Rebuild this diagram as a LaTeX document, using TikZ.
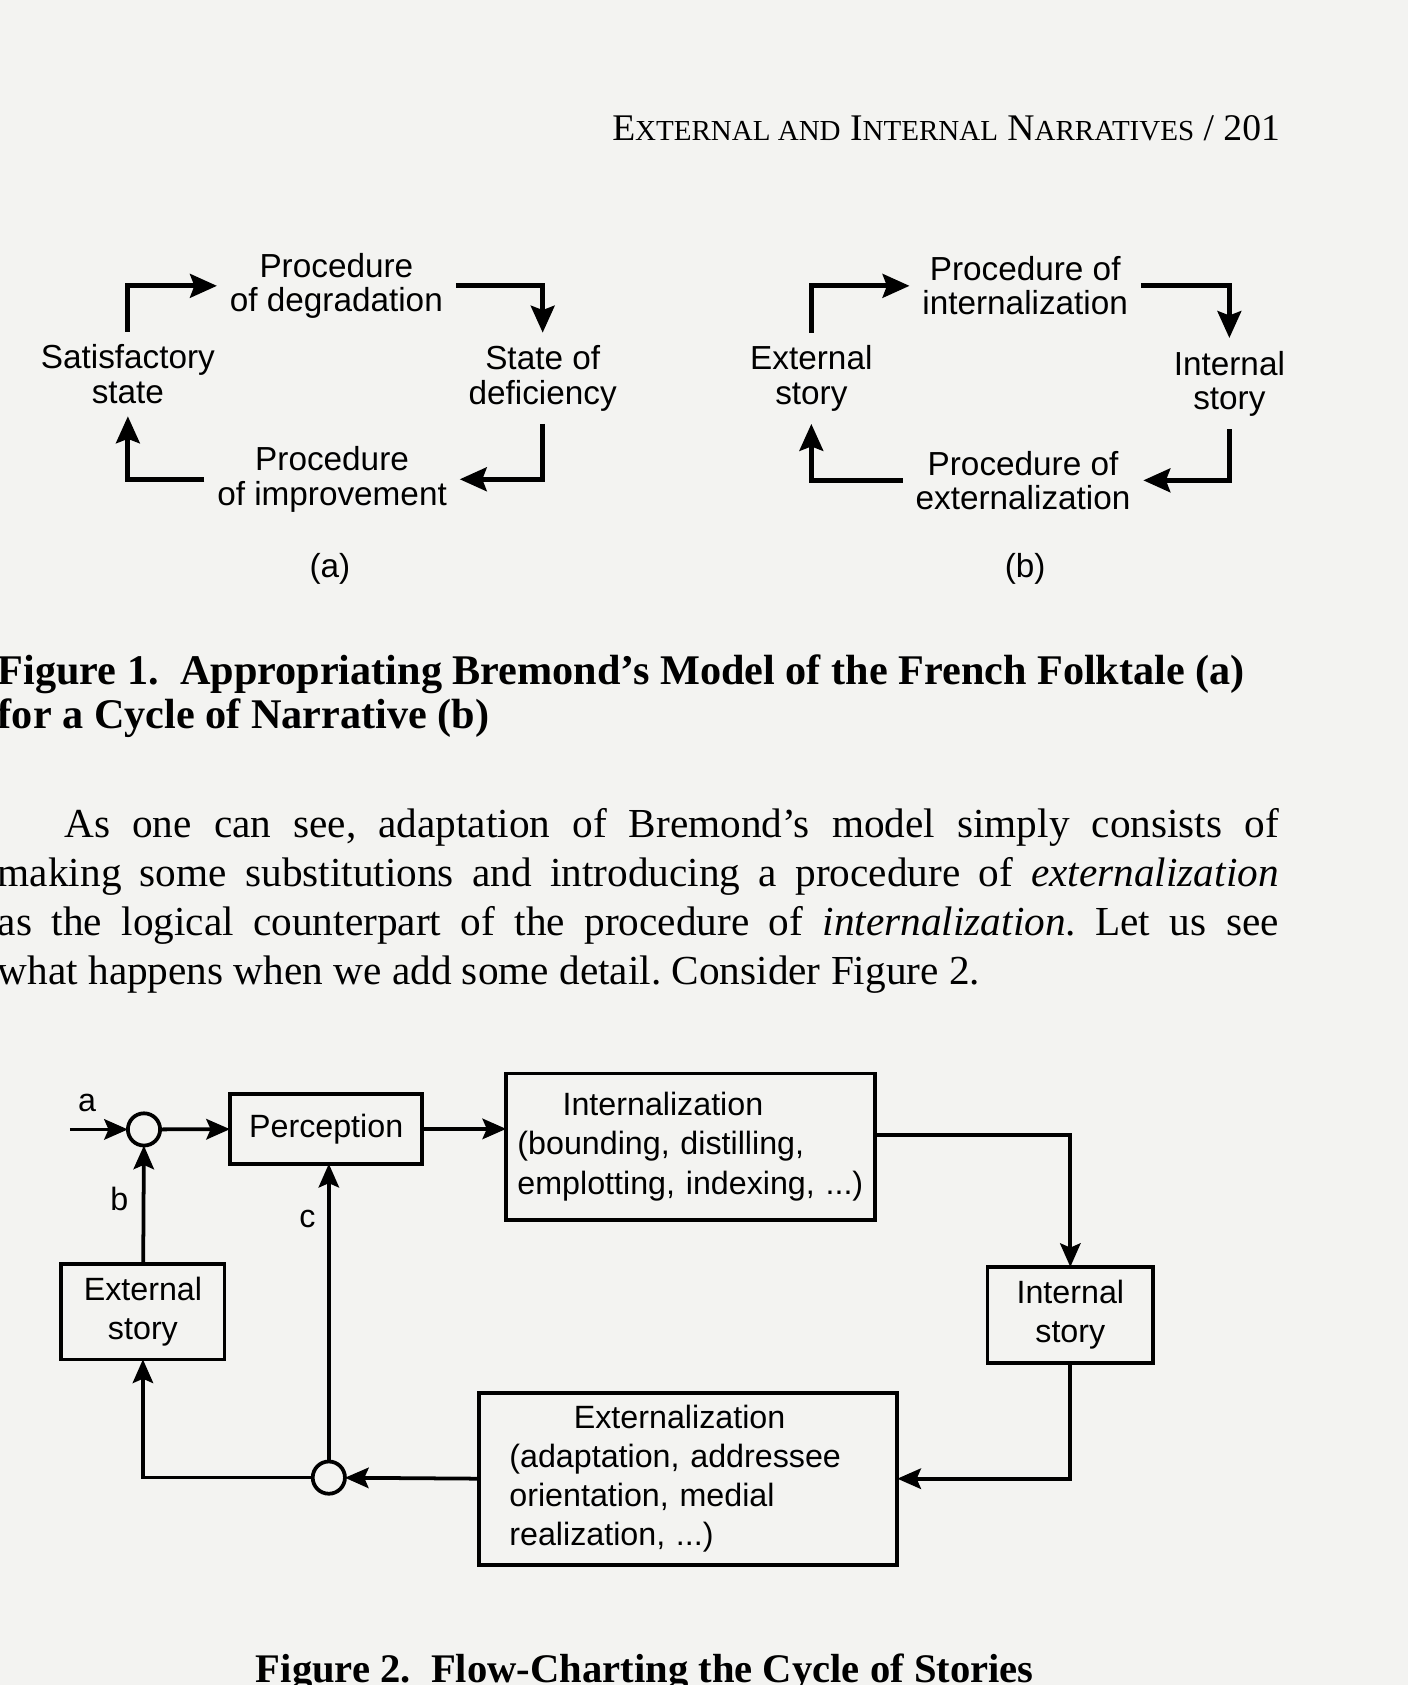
\documentclass[tikz,border=0pt]{standalone}
\usepackage{fontspec}
\setmainfont{Liberation Serif}
\newfontfamily\diagfont{Liberation Sans}
\usetikzlibrary{arrows.meta}
\definecolor{pagegray}{RGB}{243,243,241}

\newcommand{\hdbig}[1]{{\fontsize{35}{35}\selectfont #1}}
\newcommand{\hdsmall}[1]{{\fontsize{27}{27}\selectfont #1}}

\begin{document}
\begin{tikzpicture}[x=1pt,y=-1pt,inner sep=0pt,outer sep=0pt,
  >={Stealth[length=25pt,width=22pt,inset=4pt]},
  lbl/.style={align=center,inner sep=12pt,font=\diagfont\fontsize{31}{32}\selectfont},
  cyc/.style={line width=4.5pt},
  sysblock/.style={draw,rectangle,line width=3.5pt,font=\diagfont\fontsize{30}{36.5}\selectfont},
  junc/.style={draw,circle,minimum size=30pt,line width=3.5pt},
  tag/.style={font=\diagfont\fontsize{30}{30}\selectfont},
  flow/.style={line width=3.5pt,>={Stealth[length=22pt,width=19pt,inset=4pt]}}]
\useasboundingbox (0,0) rectangle (1310,1568);
\fill[pagegray] (0,0) rectangle (1310,1568);
\clip (0,0) rectangle (1310,1568);

% running head
\draw (1191,131) node[anchor=base east,font=\fontsize{35}{35}\selectfont] (head) {\hdbig{E}\hdsmall{XTERNAL AND} \hdbig{I}\hdsmall{NTERNAL} \hdbig{N}\hdsmall{ARRATIVES} / 201};

% figure 1 (a)
\draw (119,348) node[lbl] (sat) {Satisfactory\\state};
\draw (313,266) node[lbl] (deg) {Procedure\\of degradation};
\draw (505,352) node[lbl] (def) {State of\\deficiency};
\draw (309,446) node[lbl] (imp) {Procedure\\of improvement};
\draw (307,529) node[lbl] (la) {(a)};

\draw[cyc,->] (sat.north) |- (deg.west);
\draw[cyc,->] (deg.east) -| (def.north);
\draw[cyc,->] (def.south) |- (imp.east);
\draw[cyc,->] (imp.west) -| (sat.south);

% figure 1 (b)
\draw (755,352) node[lbl] (exs) {External\\story};
\draw (954,266) node[lbl] (inz) {Procedure of\\internalization};
\draw (1144,357) node[lbl] (ins) {Internal\\story};
\draw (952,447) node[lbl] (exz) {Procedure of\\externalization};
\draw (954,529) node[lbl] (lb) {(b)};

\draw[cyc,->] (exs.north) |- (inz.west);
\draw[cyc,->] (inz.east) -| (ins.north);
\draw[cyc,->] (ins.south) |- (exz.east);
\draw[cyc,->] (exz.west) -| (exs.south);

\draw (-2,678) node[anchor=base west,align=left,font=\bfseries\fontsize{39.3}{41}\selectfont] (cap1) {Figure 1.\ \ Appropriating Bremond’s Model of the French Folktale (a)\\for a Cycle of Narrative (b)};

% body text
\draw (-2,779) node[anchor=base west,text width=1192pt,align=justify,font=\fontsize{38.4}{45.7}\selectfont] (para) {\frenchspacing\tolerance=10000\hbadness=10000\hspace*{62pt}As one can see, adaptation of Bremond’s model simply consists of\linebreak making some substitutions and introducing a procedure of \textit{externalization}\linebreak as the logical counterpart of the procedure of \textit{internalization}. Let us see\linebreak what happens when we add some detail. Consider Figure 2.};

% figure 2
\coordinate (in) at (65,1051);
\draw (134,1051) node[junc] (j1) {};
\draw (303.5,1050.5) node[sysblock,minimum width=179pt,minimum height=65pt] (perc) {Perception};
\draw (642.5,1067) node[sysblock,minimum width=343pt,minimum height=136pt,text width=322pt,align=left] (intl) {\hspace*{42pt}Internalization\\(bounding, distilling,\\emplotting, indexing, ...)};
\draw (996,1223.5) node[sysblock,minimum width=154pt,minimum height=89pt,align=center] (ist) {Internal\\story};
\draw (640.5,1376) node[sysblock,minimum width=389pt,minimum height=160pt,text width=333pt,align=left] (extl) {\hspace*{60pt}Externalization\\(adaptation, addressee\\orientation, medial\\realization, ...)};
\draw (306,1375) node[junc] (j2) {};
\draw (133,1220.5) node[sysblock,minimum width=152pt,minimum height=89pt,align=center] (est) {External\\story};

\draw (81,1026) node[tag] (ta) {a};
\draw (111,1116) node[tag] (tb) {b};
\draw (286,1134) node[tag] (tc) {c};

\draw[flow,->] (in) -- (j1);
\draw[flow,->] (j1) -- (perc);
\draw[flow,->] (perc.east) -- (perc.east -| intl.west);
\draw[flow,->] ([yshift=11pt]intl.east) -| (ist.north);
\draw[flow,->] (ist.south) |- (extl.east);
\draw[flow,->] (extl.west) -- (j2);
\draw[flow,->] (j2) -| (est.south);
\draw[flow,->] (j2) -- (j2 |- perc.south);
\draw[flow,->] (est) -- (j1);

\draw (600,1566) node[anchor=base,font=\bfseries\fontsize{37.8}{44}\selectfont] (cap2) {Figure 2.\ \ Flow-Charting the Cycle of Stories};
\end{tikzpicture}
\end{document}
